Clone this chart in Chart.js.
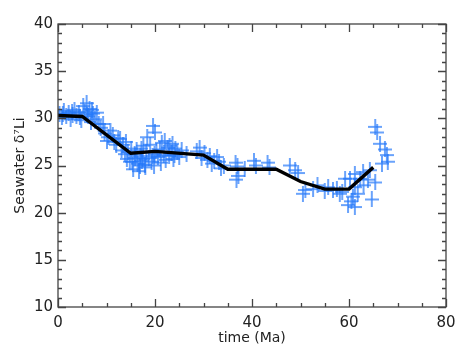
<!DOCTYPE html>
<html><head><meta charset="utf-8">
<script src="https://cdn.jsdelivr.net/npm/chart.js@4"></script>
<style>html,body{margin:0;padding:0;background:#fff}#wrap{width:474px;height:361px}canvas{display:block}</style>
</head><body><div id="wrap"><canvas id="c" width="474" height="361"></canvas></div>
<script>
// Sample ages (Ma) and seawater d7Li values
const timeMa = [
  0.3,0.8,1.0,1.2,1.7,2.2,2.6,2.9,3.0,3.4,3.8,4.3,4.5,4.8,5.2,5.5,5.9,6.0,6.2,6.5,6.8,7.0,7.2,7.6,8.0,8.4,
  8.8,9.3,9.6,10.1,10.4,10.8,11.3,11.6,12.0,12.4,12.8,13.1,13.4,13.8,14.0,14.2,14.4,14.8,
  15.1,15.3,15.5,15.8,15.9,16.2,16.4,16.7,16.9,17.0,17.2,17.3,17.5,17.6,17.9,18.0,18.2,18.4,18.7,19.0,19.3,19.5,19.6,19.8,19.9,20.0,
  20.3,20.6,21.0,21.2,21.4,21.8,22.0,22.2,22.6,22.9,23.0,23.4,23.6,23.8,24.0,24.2,24.6,25.0,25.5,26.5,28.6,29.2,29.6,30.2,
  30.8,31.3,31.7,32.2,32.8,33.2,33.6,34.2,
  36.6,37.0,37.2,36.8,38.5,40.4,40.8,43.2,43.6,
  47.8,48.9,49.5,50.5,51.0,52.6,53.5,55.0,55.7,56.7,57.5,58.1,58.6,
  59.2,59.8,60.2,60.5,60.8,61.2,61.2,61.2,61.8,62.3,62.9,63.0,63.9,64.3,64.7,65.4,65.4,65.8,66.4,66.8,67.4,67.8,68.0
];
const d7Li = [
  30.5,30.1,30.5,30.8,30.3,30.6,29.9,30.7,30.4,30.9,30.2,30.6,30.1,29.8,31.3,30.7,31.6,30.4,30.2,31.0,29.6,30.9,30.5,29.9,30.6,29.4,
  29.0,29.4,28.4,27.6,28.0,28.7,28.2,27.5,27.2,27.9,27.8,26.6,27.2,26.2,27.5,25.7,26.4,25.4,
  26.8,25.4,24.6,26.2,25.8,26.6,25.2,24.4,25.0,26.0,26.8,25.5,25.7,27.1,25.1,24.8,26.4,28.0,25.8,27.2,25.4,26.0,29.2,25.0,26.2,28.5,
  26.5,25.9,26.7,25.3,27.4,26.1,27.6,25.6,26.9,26.0,27.1,26.3,27.3,25.7,26.1,26.8,26.4,25.9,26.6,26.2,26.5,26.9,25.8,26.3,
  25.6,26.0,25.2,25.5,25.9,25.4,24.7,25.0,
  25.3,24.9,23.9,23.5,24.6,25.5,25.0,25.3,24.8,
  25.0,24.5,24.2,22.0,22.4,22.5,22.9,22.3,22.7,22.4,22.5,22.0,22.2,
  23.6,20.8,23.6,21.2,21.7,24.1,22.7,20.6,22.0,23.6,24.3,22.9,23.5,24.5,21.4,23.2,29.1,28.5,27.3,25.2,26.7,26.1,25.4
];
// Smoothed trend curve
const trendTime = [0,5,15,20,30,35,45,50,55,60,65];
const trendD7Li = [30.3,30.2,26.3,26.5,26.1,24.6,24.6,23.3,22.5,22.5,24.8];
// Axis settings
const xMin = 0, xMax = 80, xMajor = 20, xMinor = 5;
const yMin = 10, yMax = 40, yMajor = 5, yMinor = 1;

const blue = 'rgba(35,120,250,0.9)';
const crossImg = document.createElement('canvas');
crossImg.width = 14; crossImg.height = 16;
(function(){
  const g = crossImg.getContext('2d');
  g.strokeStyle = blue; g.lineWidth = 1.5;
  g.beginPath();
  g.moveTo(0, 8); g.lineTo(14, 8);
  g.moveTo(7, 0); g.lineTo(7, 16);
  g.stroke();
})();

const scatterData = timeMa.map((t,i)=>({x:t, y:d7Li[i]}));
const trendData = trendTime.map((t,i)=>({x:t, y:trendD7Li[i]}));

const frame = {
  id: 'frame',
  afterDatasetsDraw(chart) {
    const {ctx, chartArea: a, scales: {x, y}} = chart;
    ctx.save();
    ctx.strokeStyle = '#444';
    ctx.lineWidth = 1.3;
    ctx.strokeRect(a.left, a.top, a.right - a.left, a.bottom - a.top);
    ctx.beginPath();
    for (let v = xMin; v <= xMax + 1e-9; v += xMinor) {
      const px = Math.round(x.getPixelForValue(v)) + 0.5;
      const len = (Math.abs(v % xMajor) < 1e-9) ? 8 : 4;
      ctx.moveTo(px, a.bottom); ctx.lineTo(px, a.bottom - len);
      ctx.moveTo(px, a.top); ctx.lineTo(px, a.top + len);
    }
    for (let v = yMin; v <= yMax + 1e-9; v += yMinor) {
      const py = Math.round(y.getPixelForValue(v)) + 0.5;
      const len = (Math.abs(v % yMajor) < 1e-9) ? 8 : 4;
      ctx.moveTo(a.left, py); ctx.lineTo(a.left + len, py);
      ctx.moveTo(a.right, py); ctx.lineTo(a.right - len, py);
    }
    ctx.stroke();
    ctx.restore();
  }
};

const font = {family: '"DejaVu Sans", sans-serif', size: 15};
new Chart(document.getElementById('c'), {
  type: 'scatter',
  data: {
    datasets: [
      {type: 'line', data: trendData, borderColor: '#000', borderWidth: 3.4, pointRadius: 0, fill: false, tension: 0, order: 0},
      {data: scatterData, pointStyle: crossImg, pointRadius: 7, order: 1}
    ]
  },
  options: {
    responsive: false, animation: false, devicePixelRatio: 1,
    layout: {padding: {left: 0, top: 24, right: 28, bottom: 0}},
    plugins: {legend: {display: false}, tooltip: {enabled: false}},
    scales: {
      x: {
        type: 'linear', min: xMin, max: xMax,
        grid: {display: false, drawTicks: false}, border: {display: false},
        ticks: {stepSize: xMajor, color: '#222', font: font, padding: 7, maxRotation: 0},
        title: {display: true, text: 'time (Ma)', color: '#222', font: {family: font.family, size: 14}, padding: {top: 0, bottom: 14}},
        afterFit(s) { s.height = 54; }
      },
      y: {
        type: 'linear', min: yMin, max: yMax,
        grid: {display: false, drawTicks: false}, border: {display: false},
        ticks: {stepSize: yMajor, color: '#222', font: font, padding: 5},
        title: {display: true, text: 'Seawater δ⁷Li', color: '#222', font: {family: font.family, size: 14}, padding: {top: 12, bottom: 0}},
        afterFit(s) { s.width = 58; }
      }
    }
  },
  plugins: [frame]
});
</script>
</body></html>
